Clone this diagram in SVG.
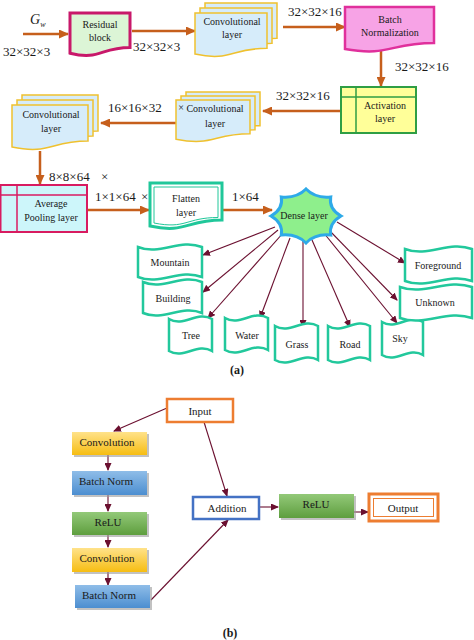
<svg xmlns="http://www.w3.org/2000/svg" width="474" height="640" viewBox="0 0 474 640">
<style>
text{font-family:"Liberation Serif","Times New Roman",serif;fill:#1a1a1a}
.n{font-size:10px;text-anchor:middle}
.b{font-size:11px;text-anchor:middle}
.d{font-size:13px}
.oa{stroke:#c65f1c;stroke-width:2.5;fill:none;marker-end:url(#ao)}
.ma{stroke:#6b1030;stroke-width:1.1;fill:none;marker-end:url(#am)}
.conv{fill:#d6ecfa;stroke:#efc12f;stroke-width:1.5}
.flag{fill:#fff;stroke:#22c89c;stroke-width:2.5}
.sh{fill:#9a9a9a;opacity:.6}
</style>
<defs>
<marker id="ao" markerUnits="userSpaceOnUse" markerWidth="10" markerHeight="9" refX="9" refY="4.5" orient="auto"><path d="M0,0 L10,4.5 L0,9 z" fill="#c65f1c"/></marker>
<marker id="am" markerUnits="userSpaceOnUse" markerWidth="8" markerHeight="7" refX="7" refY="3.5" orient="auto"><path d="M0,0 L8,3.5 L0,7 z" fill="#6b1030"/></marker>
<linearGradient id="gy" x1="0" y1="0" x2="0" y2="1"><stop offset="0" stop-color="#ffe28a"/><stop offset="1" stop-color="#f6bd12"/></linearGradient>
<linearGradient id="gb" x1="0" y1="0" x2="0" y2="1"><stop offset="0" stop-color="#8fbde8"/><stop offset="1" stop-color="#4c8ed0"/></linearGradient>
<linearGradient id="gg" x1="0" y1="0" x2="0" y2="1"><stop offset="0" stop-color="#93c979"/><stop offset="1" stop-color="#5e9e3e"/></linearGradient>
</defs>

<g id="connectors">
<line class="oa" x1="23" y1="34" x2="68" y2="34"/>
<line class="oa" x1="132" y1="31" x2="195" y2="31"/>
<line class="oa" x1="283" y1="27" x2="345" y2="27"/>
<line class="oa" x1="381" y1="51" x2="381" y2="86"/>
<line class="oa" x1="341" y1="111" x2="263" y2="111"/>
<line class="oa" x1="176" y1="123" x2="101" y2="123"/>
<line class="oa" x1="40" y1="151" x2="40" y2="184"/>
<line class="oa" x1="87" y1="210" x2="149" y2="210"/>
<line class="oa" x1="223" y1="210" x2="272" y2="210"/>
<line class="ma" x1="275" y1="227" x2="203" y2="255"/>
<line class="ma" x1="278" y1="230" x2="203" y2="292"/>
<line class="ma" x1="283" y1="233" x2="208" y2="318"/>
<line class="ma" x1="290" y1="238" x2="260" y2="318"/>
<line class="ma" x1="303" y1="240" x2="303" y2="327"/>
<line class="ma" x1="312" y1="240" x2="350" y2="327"/>
<line class="ma" x1="323" y1="232" x2="397" y2="323"/>
<line class="ma" x1="327" y1="228" x2="397" y2="300"/>
<line class="ma" x1="337" y1="222" x2="405" y2="263"/>
<line class="ma" x1="167" y1="408" x2="114" y2="431"/>
<line class="ma" x1="204" y1="422" x2="227" y2="496"/>
<line class="ma" x1="108" y1="455" x2="108" y2="470"/>
<line class="ma" x1="108" y1="495" x2="108" y2="511"/>
<line class="ma" x1="108" y1="535" x2="108" y2="547"/>
<line class="ma" x1="108" y1="572" x2="108" y2="585"/>
<line class="ma" x1="151" y1="600" x2="228" y2="520"/>
<line class="ma" x1="259" y1="507" x2="278" y2="507"/>
<line class="ma" x1="354" y1="512" x2="368" y2="512"/>
</g>

<g id="labels-a">
<text x="30" y="24" style="font-size:14px;font-style:italic">G<tspan style="font-size:8px" dy="3">w</tspan></text>
<text class="d" x="3" y="56">32×32×3</text>
<text class="d" x="133" y="51">32×32×3</text>
<text class="d" x="288" y="16">32×32×16</text>
<text class="d" x="395" y="71">32×32×16</text>
<text class="d" x="276" y="100">32×32×16</text>
<text class="d" x="108" y="112">16×16×32</text>
<text class="d" x="49" y="181">8×8×64</text>
<text class="d" x="101" y="181">×</text>
<text class="d" x="95" y="201">1×1×64</text>
<text class="d" x="141" y="201">×</text>
<text class="d" x="232" y="201">1×64</text>
<text x="237" y="374" style="font-size:12px;font-weight:bold;text-anchor:middle">(a)</text>
<text x="230" y="637" style="font-size:12px;font-weight:bold;text-anchor:middle">(b)</text>
</g>

<g id="residual">
<path d="M70,13 H130 V47.5 C100,47.5 100,60.6 70,53.2 Z" fill="#dcf5d6" stroke="#c8186a" stroke-width="3"/>
<text class="n" x="100" y="28">Residual</text>
<text class="n" x="100" y="41">block</text>
</g>

<g id="conv1">
<path class="conv" d="M205,3 H277 V38.3 C241,38.3 241,51.7 205,44.1 Z"/>
<path class="conv" d="M200,8 H272 V43.3 C236,43.3 236,56.7 200,49.1 Z"/>
<path class="conv" d="M195,13 H267 V48.3 C231,48.3 231,61.7 195,54.1 Z"/>
<text class="n" x="232" y="25">Convolutional</text>
<text class="n" x="232" y="38">layer</text>
</g>

<g id="batchnorm">
<path d="M345,7 H434 V43.1 C389.5,43.1 389.5,56.8 345,49 Z" fill="#f7a3e6" stroke="#e0309c" stroke-width="2.5"/>
<text class="n" x="390" y="23">Batch</text>
<text class="n" x="390" y="36">Normalization</text>
</g>

<g id="activation">
<rect x="341" y="87" width="75" height="46" fill="#ffff99" stroke="#2f9e44" stroke-width="2"/>
<line x1="356" y1="87" x2="356" y2="133" stroke="#2f9e44" stroke-width="1.5"/>
<line x1="341" y1="97" x2="416" y2="97" stroke="#2f9e44" stroke-width="1.5"/>
<text class="n" x="385" y="109">Activation</text>
<text class="n" x="385" y="122">layer</text>
</g>

<g id="conv2">
<path class="conv" d="M186,92 H260 V125.7 C223,125.7 223,138.5 186,131.2 Z"/>
<path class="conv" d="M181,96 H255 V129.7 C218,129.7 218,142.5 181,135.2 Z"/>
<path class="conv" d="M176,100 H250 V133.7 C213,133.7 213,146.5 176,139.2 Z"/>
<text class="n" x="181" y="111">×</text>
<text class="n" x="215" y="112">Convolutional</text>
<text class="n" x="215" y="127">layer</text>
</g>

<g id="conv3">
<path class="conv" d="M22,95 H98 V131.1 C60,131.1 60,144.8 22,137 Z"/>
<path class="conv" d="M17,100 H93 V136.1 C55,136.1 55,149.8 17,142 Z"/>
<path class="conv" d="M12,105 H88 V141.1 C50,141.1 50,154.8 12,147 Z"/>
<text class="n" x="51" y="118">Convolutional</text>
<text class="n" x="51" y="132">layer</text>
</g>

<g id="avgpool">
<rect x="0.5" y="185" width="86.5" height="47" fill="#cdf6fa" stroke="#d81b60" stroke-width="2"/>
<line x1="17" y1="185" x2="17" y2="232" stroke="#d81b60" stroke-width="1.5"/>
<line x1="0" y1="195" x2="87" y2="195" stroke="#d81b60" stroke-width="1.5"/>
<text class="n" x="51" y="207">Average</text>
<text class="n" x="51" y="221">Pooling layer</text>
</g>

<g id="flatten">
<path d="M150,183 H222 V219.9 C186,219.9 186,233.9 150,226 Z" fill="#fff" stroke="#20c79a" stroke-width="3"/>
<path d="M154,187 H218 V217.5 C186,217.5 186,229.5 154,223 Z" fill="none" stroke="#20c79a" stroke-width="1"/>
<text class="n" x="186" y="202">Flatten</text>
<text class="n" x="186" y="216">layer</text>
</g>

<g id="dense">
<path d="M306,189 Q315.4,198.5 330.7,196.9 Q328.6,208.8 341,216 Q328.6,223.2 330.7,235.1 Q315.4,233.5 306,243 Q296.6,233.5 281.3,235.1 Q283.4,223.2 271,216 Q283.4,208.8 281.3,196.9 Q296.6,198.5 306,189 Z" fill="#8eef8c" stroke="#2eaae8" stroke-width="3"/>
<text class="n" x="304" y="219">Dense layer</text>
</g>

<g id="mountain"><path class="flag" d="M138,247 C160.4,256 179.6,238 202,247 L202,277 C179.6,268 160.4,286 138,277 Z"/><text class="n" x="170" y="266">Mountain</text></g>
<g id="building"><path class="flag" d="M143,282 C163.7,291 181.4,273 202,282 L202,313 C181.4,304 163.7,322 143,313 Z"/><text class="n" x="173" y="302">Building</text></g>
<g id="tree"><path class="flag" d="M169,319 C184,328 197,310 212,319 L212,351 C197,342 184,360 169,351 Z"/><text class="n" x="191" y="339">Tree</text></g>
<g id="water"><path class="flag" d="M225,318 C240,327 253,309 268,318 L268,350 C253,341 240,359 225,350 Z"/><text class="n" x="247" y="339">Water</text></g>
<g id="grass"><path class="flag" d="M275,326 C290,335 303,317 318,326 L318,360 C303,351 290,369 275,360 Z"/><text class="n" x="297" y="348">Grass</text></g>
<g id="road"><path class="flag" d="M328,326 C342.7,335 355.3,317 370,326 L370,360 C355.3,351 342.7,369 328,360 Z"/><text class="n" x="350" y="348">Road</text></g>
<g id="sky"><path class="flag" d="M382,322 C396.4,331 408.7,313 423,322 L423,355 C408.7,346 396.4,364 382,355 Z"/><text class="n" x="400" y="342">Sky</text></g>
<g id="unknown"><path class="flag" d="M400,287 C425.2,296 446.8,278 472,287 L472,318 C446.8,309 425.2,327 400,318 Z"/><text class="n" x="435" y="306">Unknown</text></g>
<g id="foreground"><path class="flag" d="M405,249 C428.5,258 448.6,240 472,249 L472,281 C448.6,272 428.5,290 405,281 Z"/><text class="n" x="438" y="269">Foreground</text></g>

<g id="input"><rect x="167" y="399" width="66" height="23" fill="#fff" stroke="#ed7d31" stroke-width="2.5"/><text class="b" x="200" y="415">Input</text></g>
<g id="conv-b1"><rect class="sh" x="74" y="434" width="75" height="23"/><rect x="72" y="432" width="75" height="23" fill="url(#gy)"/><text class="b" x="107" y="446">Convolution</text></g>
<g id="bn-b1"><rect class="sh" x="74" y="473" width="75" height="24"/><rect x="72" y="471" width="75" height="24" fill="url(#gb)"/><text class="b" x="106" y="485">Batch Norm</text></g>
<g id="relu-b1"><rect class="sh" x="74" y="514" width="75" height="23"/><rect x="72" y="512" width="75" height="23" fill="url(#gg)"/><text class="b" x="108" y="526">ReLU</text></g>
<g id="conv-b2"><rect class="sh" x="74" y="550" width="75" height="24"/><rect x="72" y="548" width="75" height="24" fill="url(#gy)"/><text class="b" x="107" y="562">Convolution</text></g>
<g id="bn-b2"><rect class="sh" x="77" y="587" width="75" height="23"/><rect x="75" y="585" width="75" height="23" fill="url(#gb)"/><text class="b" x="109" y="599">Batch Norm</text></g>
<g id="addition"><rect x="193" y="497" width="66" height="22" fill="#fff" stroke="#4472c4" stroke-width="2.5"/><text class="b" x="227" y="512">Addition</text></g>
<g id="relu-b2"><rect class="sh" x="281" y="496" width="75" height="24"/><rect x="279" y="494" width="75" height="24" fill="url(#gg)"/><text class="b" x="316" y="508">ReLU</text></g>
<g id="output"><rect x="369" y="494" width="69" height="27" fill="#fff" stroke="#ed7d31" stroke-width="3"/><rect x="373.5" y="498.5" width="60" height="18" fill="none" stroke="#ed7d31" stroke-width="1"/><text class="b" x="403" y="512">Output</text></g>
</svg>
